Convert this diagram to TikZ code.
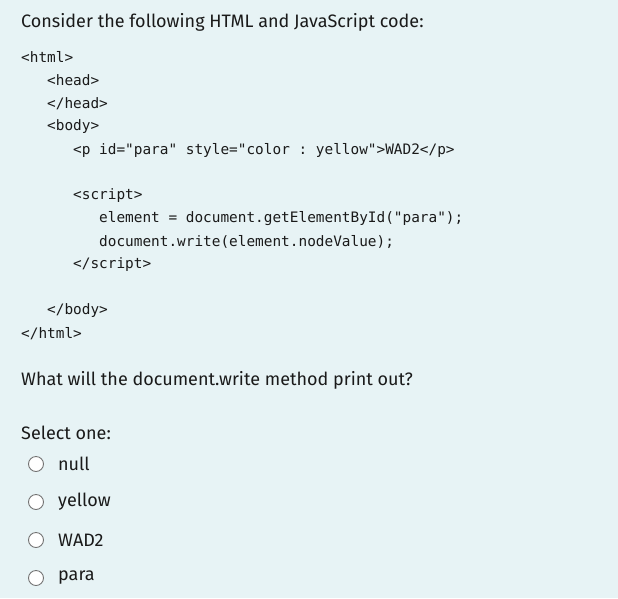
\documentclass[tikz,border=0pt]{standalone}
\usepackage{fontspec}
\setmainfont{Fira Sans}
\setmonofont{DejaVu Sans Mono}
\definecolor{panelbg}{HTML}{E7F3F5}
\definecolor{ink}{HTML}{1A1A1A}
\begin{document}
\begin{tikzpicture}[x=1pt,y=-1pt,
  txt/.style={anchor=west,inner sep=0pt,text=ink,font=\fontsize{18}{21}\selectfont},
  code/.style={anchor=west,inner sep=0pt,text=ink,font=\ttfamily\fontsize{14.4}{17}\selectfont},
  radio/.style={circle,draw=black!55,fill=white,line width=0.9pt,minimum size=15pt,inner sep=0pt}]
  \fill[panelbg] (0,0) rectangle (618,598);
  \useasboundingbox (0,0) rectangle (618,598);

  \node[txt] (title) at (21,22) {Consider the following HTML and JavaScript code:};
  % code listing
  \node[code] (c1) at (21,57) {<html>};
  \node[code] (c2) at (47,80) {<head>};
  \node[code] (c3) at (47,104) {</head>};
  \node[code] (c4) at (47,127) {<body>};
  \node[code] (c5) at (73,150) {<p id="para" style="color : yellow">WAD2</p>};
  \node[code] (c6) at (73,196) {<script>};
  \node[code] (c7) at (99,219) {element = document.getElementById("para");};
  \node[code] (c8) at (99,242) {document.write(element.nodeValue);};
  \node[code] (c9) at (73,265) {</script>};
  \node[code] (c10) at (47,311) {</body>};
  \node[code] (c11) at (21,334) {</html>};

  \node[txt] (question) at (21,380) {What will the document.write method print out?};
  \node[txt] (select) at (21,433) {Select one:};

  \foreach \y/\lbl/\nm in {464/null/a, 502/yellow/b, 540/WAD2/c, 578/para/d} {
    \node[radio] (r\nm) at (36,\y) {};
    \node[txt] (o\nm) at (58,\y) {\lbl};
  }
\end{tikzpicture}
\end{document}
